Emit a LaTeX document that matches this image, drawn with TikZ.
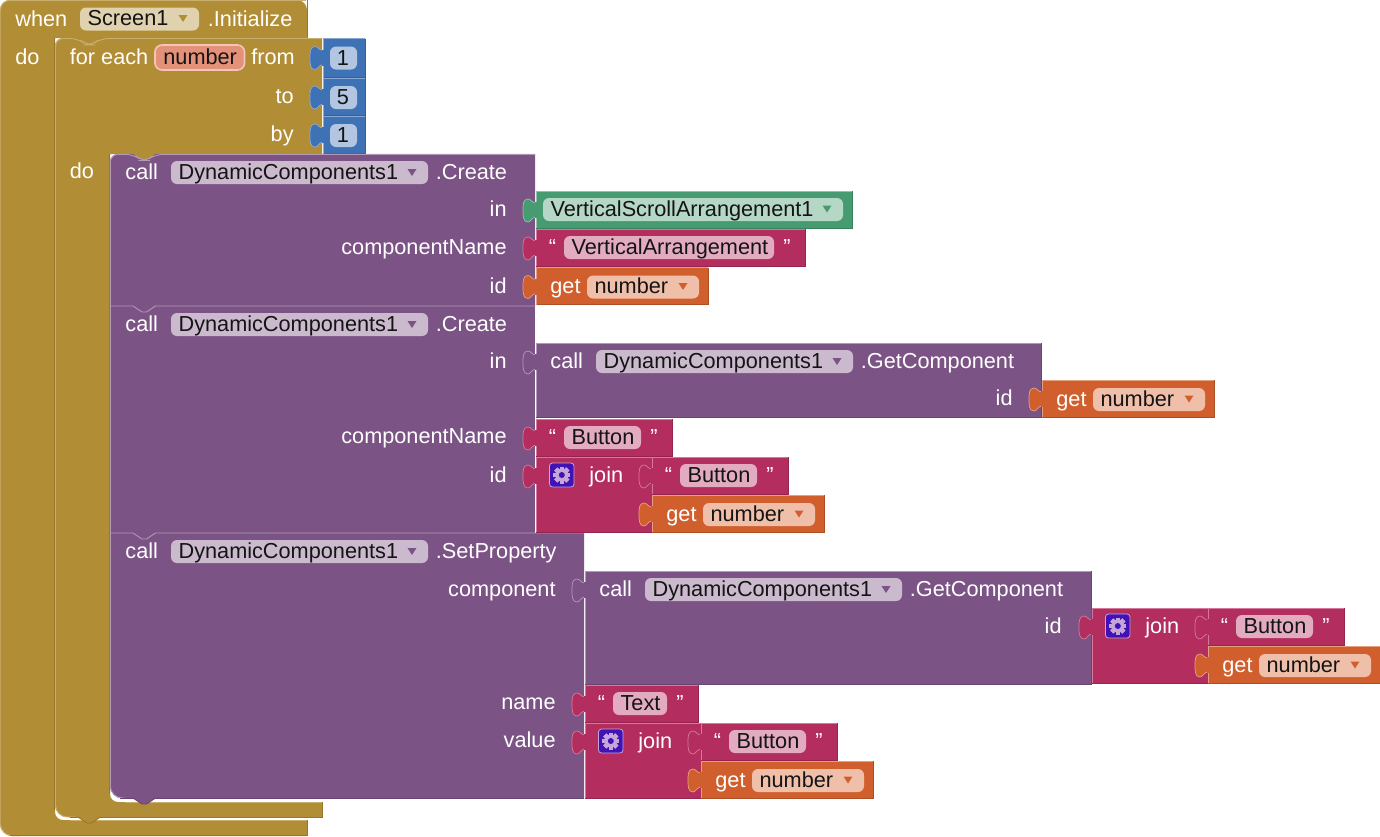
\documentclass[tikz,border=0pt]{standalone}
\usepackage{fontspec}
\setmainfont{Liberation Sans}
\definecolor{mu}{HTML}{B18E35}\definecolor{muL}{HTML}{C9AE6E}\definecolor{muD}{HTML}{94762C}
\definecolor{pu}{HTML}{7C5385}\definecolor{puL}{HTML}{B09AB6}\definecolor{puD}{HTML}{674570}
\definecolor{ma}{HTML}{B32D5E}\definecolor{maL}{HTML}{D5789B}\definecolor{maD}{HTML}{95254E}
\definecolor{or}{HTML}{D05F2D}\definecolor{orL}{HTML}{E6A07F}\definecolor{orD}{HTML}{AD4F25}
\definecolor{gr}{HTML}{469B70}\definecolor{grL}{HTML}{8FC6A9}\definecolor{grD}{HTML}{3A815D}
\definecolor{bl}{HTML}{3F71B5}\definecolor{blL}{HTML}{8AA9D5}\definecolor{blD}{HTML}{345E97}
\definecolor{fmu}{HTML}{E0D2AE}\definecolor{fpu}{HTML}{CBBACE}\definecolor{fma}{HTML}{E2ABC0}
\definecolor{for}{HTML}{F0BFA9}\definecolor{fgr}{HTML}{B5D7C6}\definecolor{fbl}{HTML}{B2C6E2}
\definecolor{ftxt}{HTML}{141414}\definecolor{fvar}{HTML}{E39179}\definecolor{fvarL}{HTML}{F2C5B6}
\definecolor{mutsq}{HTML}{4212B4}\definecolor{mutgear}{HTML}{C4A6DA}
\newcounter{nn}
\tikzset{
  lab/.style={text=white,inner sep=0pt,font=\fontsize{10.85}{12}\selectfont},
  ftx/.style={text=ftxt,inner sep=0pt,font=\fontsize{10.85}{12}\selectfont},
  edge/.style={line width=0.45pt},
}
% left-aligned white label: x, centre y, text
\newcommand\lbl[3]{\stepcounter{nn}\node[lab,anchor=base west] (t\thenn) at (#1,#2+7) {#3};}
% right-aligned white label
\newcommand\rlb[3]{\stepcounter{nn}\node[lab,anchor=base east] (t\thenn) at (#1,#2+7) {#3};}
% value block: colour,x1,y1,x2,y2
\newcommand\blk[5]{%
  \fill[#1] (#2,#3) rectangle (#4,#5);
  \draw[edge,#1D] (#4,#3) -- (#4,#5) -- (#2,#5);
  \draw[edge,#1L] (#2,#5) -- (#2,#3) -- (#4,#3);}
% output tab: colour,x,block top
\newcommand\tabb[3]{%
  \filldraw[#1,draw=#1L,line width=0.35pt] (#2,#3+12) .. controls (#2-4,#3+12) and (#2-5,#3+8) .. (#2-8,#3+8)
     .. controls (#2-13,#3+8) and (#2-13,#3+14) .. (#2-13,#3+19)
     .. controls (#2-13,#3+25) and (#2-13,#3+31) .. (#2-8,#3+31)
     .. controls (#2-5,#3+31) and (#2-4,#3+26) .. (#2,#3+26) -- cycle;
  \fill[#1] (#2-1,#3+11) rectangle (#2+1,#3+27);}
% triangle: colour,x centre,y centre
\newcommand\tri[3]{\fill[#1] (#2-4.5,#3-3.5) -- (#2+4.5,#3-3.5) -- (#2,#3+3.5) -- cycle;}
% field: fill,x1,x2,ytop,text
\newcommand\fld[5]{%
  \fill[#1,rounded corners=3pt] (#2,#4) rectangle (#3,#4+23);
  \stepcounter{nn}\node[ftx,anchor=base west] (t\thenn) at (#2+7.2,#4+18) {#5};}
% get block: x,ytop
\newcommand\getb[2]{%
  \blk{or}{#1}{#2}{#1+172}{#2+37}\tabb{or}{#1}{#2}
  \lbl{#1+14}{#2+19}{get}
  \fld{for}{#1+51}{#1+163}{#2+8}{number}\tri{or}{#1+147}{#2+19}}
% string block: x,ytop,width,text
\newcommand\strb[4]{%
  \blk{ma}{#1}{#2}{#1+#3}{#2+37}\tabb{ma}{#1}{#2}
  \stepcounter{nn}\node[lab,anchor=base] (t\thenn) at (#1+16.5,#2+25) {“};
  \stepcounter{nn}\node[lab,anchor=base] (t\thenn) at (#1+#3-18,#2+25) {”};
  \fld{fma}{#1+28}{#1+#3-31}{#2+7}{#4}}
% number block: ytop, value
\newcommand\numb[3]{%
  \blk{bl}{323}{#1}{365}{#2}\tabb{bl}{323}{#1}
  \fill[fbl,rounded corners=3pt] (330,#1+8) rectangle (357,#1+31);
  \stepcounter{nn}\node[ftx,anchor=base] (t\thenn) at (343,#1+26.5) {#3};}
% call header: x,ytop of field -7,method
\newcommand\dyn[3]{%
  \lbl{#1+15}{#2+18}{call}
  \fld{fpu}{#1+61}{#1+318}{#2+7}{DynamicComponents1}\tri{pu}{#1+302}{#2+18.5}
  \lbl{#1+325.5}{#2+18}{#3}}
% join block: x,ytop
\newcommand\joinb[2]{%
  \blk{ma}{#1}{#2}{#1+116}{#2+75}\tabb{ma}{#1}{#2}
  \filldraw[mutsq,draw=mutgear,line width=0.4pt,rounded corners=1.5pt] (#1+13.5,#2+6) rectangle (#1+38,#2+30);
  \begin{scope}[shift={(#1+25.8,#2+18)}]
    \foreach \a in {0,45,...,315}{\fill[mutgear,rotate=\a] (-2.2,-8.5) rectangle (2.2,8.5);}
    \fill[mutgear] (0,0) circle[radius=6.5];
    \fill[mutsq] (0,0) circle[radius=3];
  \end{scope}
  \lbl{#1+53}{#2+18}{join}}
% statement notch: x,y
\newcommand\notchline[3]{\draw[edge,#1,rounded corners=1pt] (#2,#3) -- (#2+9,#3+6.5) -- (#2+13.5,#3+6.5) -- (#2+22.5,#3);}
\newcommand\notchfill[3]{\fill[#1] (#2,#3) -- (#2+9,#3+6) -- (#2+13.5,#3+6) -- (#2+22.5,#3) -- cycle;}
\begin{document}
\begin{tikzpicture}[x=0.5pt,y=-0.5pt]
\useasboundingbox (0,0) rectangle (1380,836);
% event block
\fill[mu] (0,20) [rounded corners=5pt] -- (0,0) -- (307,0) [sharp corners] -- (307,38) -- (55,38) [rounded corners=4pt] -- (55,820) [sharp corners] -- (307,820) -- (307,836) [rounded corners=6pt] -- (0,836) [sharp corners] -- cycle;
\draw[edge,muL] (0.3,20) [rounded corners=5pt] -- (0.3,0.3) -- (306,0.3);
\draw[edge,muL] (0.3,20) [rounded corners=6pt] -- (0.3,835.6) -- (20,835.6);
\draw[edge,muD] (307,0) -- (307,38);
\draw[edge,muD] (54.5,38) -- (54.5,810);
\draw[edge,muL] (70,820.5) -- (307,820.5);
\draw[edge,muD] (307,820) -- (307,835.7) -- (10,835.7);
% for each block
\fill[mu] (55,60) [rounded corners=4pt] -- (55,38) [sharp corners] -- (322,38) -- (322,154) -- (110,154) [rounded corners=4pt] -- (110,802) [sharp corners] -- (322,802) -- (322,817) [rounded corners=6pt] -- (55,817) [sharp corners] -- cycle;
\draw[edge,muL] (55.5,60) [rounded corners=4pt] -- (55.5,38.5) -- (78,38.5) -- (87,45) -- (91.5,45) -- (100.5,38.5) [sharp corners] -- (322,38.5);
\draw[edge,muL] (55.5,60) [rounded corners=6pt] -- (55.5,817) -- (75,817);
\draw[edge,muD] (322,802) -- (322,817) -- (70,817);
\draw[edge,muD] (109.5,154) -- (109.5,794);
\draw[edge,muL] (125,802.5) -- (322,802.5);
% bottom tab of for each
\fill[mu] (78,817) -- (87,823) -- (91.5,823) -- (100.5,817) -- cycle;
\draw[edge,muD] (78,817) -- (87,823) -- (91.5,823) -- (100.5,817);
\lbl{15}{19}{when}
\fld{fmu}{80}{199}{7.5}{Screen1}\tri{mu}{183}{18.5}
\lbl{207.5}{19}{.Initialize}
\lbl{15}{57}{do}
\lbl{69.5}{57}{for each}
\filldraw[fvar,draw=fvarL,line width=0.8pt,rounded corners=3.5pt] (155,45) rectangle (244.5,70);
\stepcounter{nn}\node[ftx,anchor=base west] (t\thenn) at (163,64) {number};
\lbl{251}{57}{from}
\rlb{294}{96}{to}
\rlb{294}{134}{by}
\lbl{69.5}{171}{do}
\numb{38.5}{77.5}{1}
\numb{78}{115.5}{5}
\numb{116}{153.5}{1}
% purple statement blocks
\fill[pu] (110,170) [rounded corners=4pt] -- (110,154) [sharp corners] -- (535,154) -- (535,306) -- (110,306) -- cycle;
\fill[pu] (110,306) rectangle (535,533);
\fill[pu] (110,533) -- (584,533) -- (584,798) [rounded corners=6pt] -- (110,798) [sharp corners] -- cycle;
\notchfill{mu}{133}{154}
\draw[edge,puL] (110.3,170) [rounded corners=4pt] -- (110.3,154.3) -- (133,154.3) -- (142,160.5) -- (146.5,160.5) -- (155.5,154.3) [sharp corners] -- (535,154.3);
\draw[edge,puL] (110,306) -- (133,306) -- (142,312) -- (146.5,312) -- (155.5,306) -- (535,306);
\draw[edge,puL] (110,533) -- (133,533) -- (142,539) -- (146.5,539) -- (155.5,533) -- (584,533);
\draw[edge,puL] (110.3,170) [rounded corners=6pt] -- (110.3,798) -- (125,798);
\draw[edge,puD] (120,798) -- (584,798);
\fill[pu] (133,798) -- (142,804) -- (146.5,804) -- (155.5,798) -- cycle;
\draw[edge,puD] (133,798) -- (142,804) -- (146.5,804) -- (155.5,798);
% call 1
\dyn{110}{154}{.Create}
\rlb{507}{209}{in}
\rlb{507}{247}{componentName}
\rlb{507}{286}{id}
\blk{gr}{536}{191}{852}{228}\tabb{gr}{536}{191}
\fld{fgr}{543}{843}{198}{VerticalScrollArrangement1}\tri{gr}{827}{209}
\strb{536}{229}{269}{VerticalArrangement}
\getb{536}{267.5}
% call 2
\dyn{110}{306}{.Create}
\rlb{507}{361}{in}
\rlb{507}{436}{componentName}
\rlb{507}{475}{id}
\blk{pu}{536}{343}{1041}{417}\tabb{pu}{536}{343}
\dyn{535}{343}{.GetComponent}
\rlb{1013}{398}{id}
\getb{1042}{380}
\strb{536}{419}{136}{Button}
\joinb{536}{457}
\strb{652}{457}{136}{Button}
\getb{652}{495}
% call 3
\dyn{110}{533}{.SetProperty}
\rlb{556}{589}{component}
\rlb{556}{702}{name}
\rlb{556}{740}{value}
\blk{pu}{585}{571}{1091}{684}\tabb{pu}{585}{571}
\dyn{584}{571}{.GetComponent}
\rlb{1062}{626}{id}
\joinb{1092}{608}
\strb{1208}{608}{136}{Button}
\getb{1208}{646}
\strb{585}{685}{113}{Text}
\joinb{585}{723}
\strb{701}{723}{136}{Button}
\getb{701}{761}
\end{tikzpicture}
\end{document}
